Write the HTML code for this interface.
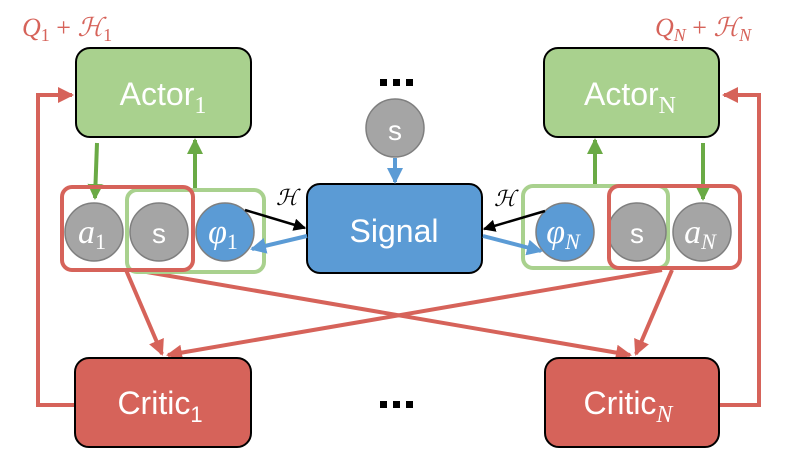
<!DOCTYPE html>
<html><head><meta charset="utf-8"><style>
html,body{margin:0;padding:0;background:#fff;}
svg{display:block;}
text{font-family:"Liberation Sans","DejaVu Sans",sans-serif;}
.m{font-family:"Liberation Serif","DejaVu Serif",serif;font-style:italic;}
.n{font-family:"Liberation Serif","DejaVu Serif",serif;font-style:normal;}
</style></head><body>
<svg width="793" height="467" viewBox="0 0 793 467" xmlns="http://www.w3.org/2000/svg">
<defs>
<marker id="ar" markerWidth="4" markerHeight="4" refX="3.5" refY="2" orient="auto" markerUnits="strokeWidth"><path d="M0,0 L4,2 L0,4 z" fill="#d6635a"/></marker>
<marker id="ag" markerWidth="4" markerHeight="4" refX="3.5" refY="2" orient="auto" markerUnits="strokeWidth"><path d="M0,0 L4,2 L0,4 z" fill="#6aaa45"/></marker>
<marker id="ab" markerWidth="4" markerHeight="4" refX="3.5" refY="2" orient="auto" markerUnits="strokeWidth"><path d="M0,0 L4,2 L0,4 z" fill="#5b9bd5"/></marker>
<marker id="ak" markerWidth="5" markerHeight="5" refX="4.5" refY="2.5" orient="auto" markerUnits="strokeWidth"><path d="M0,0 L5,2.5 L0,5 z" fill="#000"/></marker>
</defs>

<polyline points="75,405 38,405 38,95 72,95" fill="none" stroke="#d6635a" stroke-width="4" marker-end="url(#ar)"/>
<polyline points="719,405 759,405 759,95 724,95" fill="none" stroke="#d6635a" stroke-width="4" marker-end="url(#ar)"/>

<line x1="126" y1="270" x2="162" y2="354" stroke="#d6635a" stroke-width="4" marker-end="url(#ar)"/>
<line x1="135" y1="270" x2="630" y2="355" stroke="#d6635a" stroke-width="4" marker-end="url(#ar)"/>
<line x1="672" y1="270" x2="636" y2="354" stroke="#d6635a" stroke-width="4" marker-end="url(#ar)"/>
<line x1="662" y1="270" x2="168" y2="355" stroke="#d6635a" stroke-width="4" marker-end="url(#ar)"/>

<rect x="76" y="48" width="175" height="89" rx="14" fill="#a9d18e" stroke="#000" stroke-width="2"/>
<text x="163" y="105" font-size="32" fill="#fff" text-anchor="middle">Actor<tspan class="n" font-size="24" dy="8">1</tspan></text>
<rect x="544" y="48" width="175" height="89" rx="14" fill="#a9d18e" stroke="#000" stroke-width="2"/>
<text x="630" y="105" font-size="32" fill="#fff" text-anchor="middle">Actor<tspan class="n" font-size="24" dy="8">N</tspan></text>

<text x="22" y="36" class="m" font-size="26" fill="#d6635a">Q<tspan class="n" font-size="18" dy="5">1</tspan><tspan class="n" dy="-5"> + </tspan>ℋ<tspan class="n" font-size="18" dy="5">1</tspan></text>
<text x="655" y="36" class="m" font-size="26" fill="#d6635a">Q<tspan font-size="18" dy="5">N</tspan><tspan class="n" dy="-5"> + </tspan>ℋ<tspan font-size="18" dy="5">N</tspan></text>

<line x1="97" y1="143" x2="95" y2="198" stroke="#6aaa45" stroke-width="4" marker-end="url(#ag)"/>
<line x1="195" y1="190" x2="195" y2="140" stroke="#6aaa45" stroke-width="4" marker-end="url(#ag)"/>
<line x1="595" y1="186" x2="595" y2="140" stroke="#6aaa45" stroke-width="4" marker-end="url(#ag)"/>
<line x1="703" y1="143" x2="703" y2="199" stroke="#6aaa45" stroke-width="4" marker-end="url(#ag)"/>

<rect x="127" y="190" width="137" height="82" rx="10" fill="none" stroke="#a9d18e" stroke-width="4"/>
<circle cx="94" cy="232" r="29" fill="#a5a5a5" stroke="#7f7f7f" stroke-width="1.5"/>
<circle cx="159" cy="232" r="29" fill="#a5a5a5" stroke="#7f7f7f" stroke-width="1.5"/>
<circle cx="225" cy="232" r="29" fill="#5b9bd5" stroke="#7f7f7f" stroke-width="1.5"/>
<rect x="62" y="187" width="131" height="83" rx="10" fill="none" stroke="#d6635a" stroke-width="4"/>
<text x="92" y="243" class="m" font-size="34" fill="#fff" text-anchor="middle">a<tspan class="n" font-size="22" dy="6">1</tspan></text>
<text x="159" y="243" font-size="28" fill="#fff" text-anchor="middle">s</text>
<text x="223" y="243" class="m" font-size="34" fill="#fff" text-anchor="middle">φ<tspan class="n" font-size="22" dy="6">1</tspan></text>

<rect x="523" y="186" width="145" height="82" rx="10" fill="none" stroke="#a9d18e" stroke-width="4"/>
<circle cx="565" cy="232" r="29" fill="#5b9bd5" stroke="#7f7f7f" stroke-width="1.5"/>
<circle cx="637" cy="232" r="29" fill="#a5a5a5" stroke="#7f7f7f" stroke-width="1.5"/>
<circle cx="702" cy="232" r="29" fill="#a5a5a5" stroke="#7f7f7f" stroke-width="1.5"/>
<rect x="609" y="186" width="131" height="82" rx="10" fill="none" stroke="#d6635a" stroke-width="4"/>
<text x="563" y="243" class="m" font-size="34" fill="#fff" text-anchor="middle">φ<tspan font-size="22" dy="6">N</tspan></text>
<text x="637" y="243" font-size="28" fill="#fff" text-anchor="middle">s</text>
<text x="700" y="243" class="m" font-size="34" fill="#fff" text-anchor="middle">a<tspan font-size="22" dy="6">N</tspan></text>

<rect x="307" y="184" width="175" height="89" rx="13" fill="#5b9bd5" stroke="#000" stroke-width="2"/>
<text x="394" y="242" font-size="32" fill="#fff" text-anchor="middle">Signal</text>
<circle cx="395" cy="128" r="29" fill="#a5a5a5" stroke="#7f7f7f" stroke-width="1.5"/>
<text x="395" y="140" font-size="28" fill="#fff" text-anchor="middle">s</text>
<line x1="395" y1="158" x2="395" y2="182" stroke="#5b9bd5" stroke-width="4" marker-end="url(#ab)"/>

<line x1="245" y1="210" x2="305" y2="228" stroke="#000" stroke-width="2.5" marker-end="url(#ak)"/>
<line x1="307" y1="236" x2="252" y2="249" stroke="#5b9bd5" stroke-width="4" marker-end="url(#ab)"/>
<line x1="545" y1="211" x2="484" y2="229" stroke="#000" stroke-width="2.5" marker-end="url(#ak)"/>
<line x1="483" y1="236" x2="541" y2="251" stroke="#5b9bd5" stroke-width="4" marker-end="url(#ab)"/>
<text x="276" y="205" class="m" font-size="22" fill="#000">ℋ</text>
<text x="494" y="206" class="m" font-size="22" fill="#000">ℋ</text>

<g fill="#000"><rect x="380" y="79" width="7" height="7"/><rect x="393" y="79" width="7" height="7"/><rect x="406" y="79" width="7" height="7"/>
<rect x="380" y="401" width="7" height="7"/><rect x="393" y="401" width="7" height="7"/><rect x="406" y="401" width="7" height="7"/></g>

<rect x="75" y="358" width="176" height="89" rx="14" fill="#d6635a" stroke="#000" stroke-width="2"/>
<text x="160" y="414" font-size="32" fill="#fff" text-anchor="middle">Critic<tspan font-size="22" dy="8">1</tspan></text>
<rect x="545" y="358" width="174" height="89" rx="14" fill="#d6635a" stroke="#000" stroke-width="2"/>
<text x="628" y="414" font-size="32" fill="#fff" text-anchor="middle">Critic<tspan class="m" font-size="24" dy="8">N</tspan></text>
</svg>
</body></html>
